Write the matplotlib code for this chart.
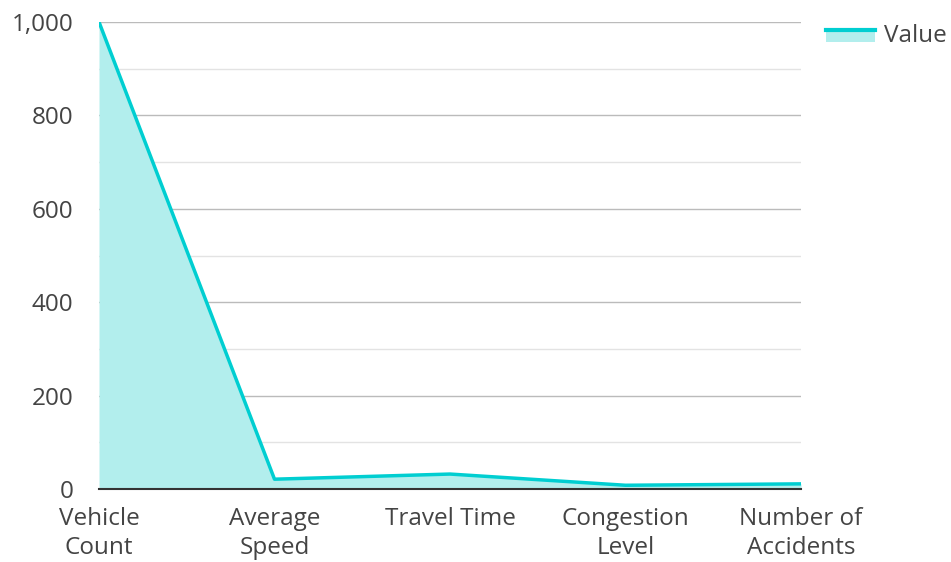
import matplotlib.pyplot as plt
import matplotlib.patches as mpatches
import matplotlib.lines as mlines
from matplotlib.legend_handler import HandlerBase
import numpy as np

categories = ['Vehicle\nCount', 'Average\nSpeed', 'Travel Time', 'Congestion\nLevel', 'Number of\nAccidents']
values = [1000, 21, 32, 8, 11]

line_col = '#00CED1'
fill_col = '#B2EEED'

plt.rcParams['font.family'] = ['Open Sans', 'DejaVu Sans']


class AreaHandler(HandlerBase):
	# filled box with the line along its top edge
	def create_artists(self, legend, orig, xd, yd, w, h, fs, trans):
		r = mpatches.Rectangle((-xd, -yd), w, h*0.7, color=fill_col, lw=0, transform=trans)
		l = mlines.Line2D([-xd, -xd+w], [-yd+h*0.7]*2, color=line_col, lw=3, transform=trans)
		return [r, l]


fig = plt.figure(figsize=(9.51, 5.62), dpi=100)
ax = fig.add_axes([99/951, 1-489/562, 702/951, 467/562])

x = np.arange(len(categories))
ax.fill_between(x, values, 0, color=fill_col, lw=0, zorder=2)
ax.plot(x, values, color=line_col, lw=2.5, zorder=3)

ax.set_xlim(0, len(categories)-1)
ax.set_ylim(0, 1000)
ax.set_yticks(np.arange(0, 1001, 200))
ax.set_yticks(np.arange(100, 1000, 200), minor=True)
ax.set_yticklabels(['{:,}'.format(v) for v in range(0, 1001, 200)])
ax.set_xticks(x)
ax.set_xticklabels(categories, linespacing=1.3)

ax.grid(axis='y', which='major', color='#bbbbbb', lw=1, zorder=0)
ax.grid(axis='y', which='minor', color='#e3e3e3', lw=1, zorder=0)
for s in ['left', 'right', 'top']:
	ax.spines[s].set_visible(False)
ax.spines['bottom'].set_color('#333333')
ax.spines['bottom'].set_linewidth(1.5)
ax.spines['bottom'].set_zorder(4)
ax.tick_params(axis='both', which='both', length=0, labelsize=17.5, labelcolor='#444444')
ax.tick_params(axis='x', pad=13)
ax.tick_params(axis='y', pad=18.5)

fig.legend([object()], ['Value'], handler_map={object: AreaHandler()},
	loc='upper left', bbox_to_anchor=(826/951, 1-24/562), borderpad=0, borderaxespad=0,
	frameon=False, fontsize=17.5, labelcolor='#444444', handlelength=2.0, handletextpad=0.4)

fig.savefig('out.png', dpi=100)
